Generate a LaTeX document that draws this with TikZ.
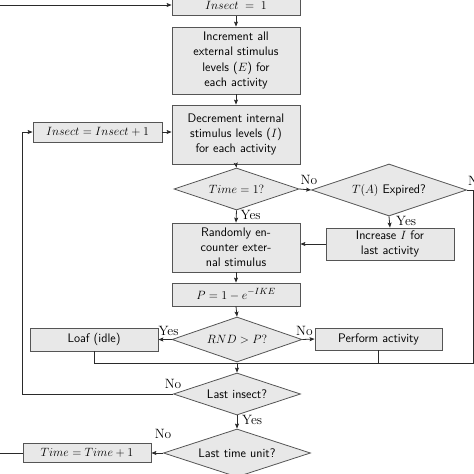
\documentclass[tikz,border=0pt]{standalone}
\usetikzlibrary{shapes.geometric,arrows.meta,calc}
\definecolor{boxfill}{HTML}{E8E8E8}
\definecolor{boxdraw}{HTML}{555555}
\definecolor{lnc}{HTML}{2A2A2A}
\tikzset{
  proc/.style={draw=boxdraw, fill=boxfill, line width=0.8pt, minimum width=128pt,
    inner sep=2pt, align=center, font=\fontsize{12.4}{15.2}\selectfont\sffamily},
  decision/.style={diamond, draw=boxdraw, fill=boxfill, line width=0.8pt, inner sep=0pt,
    aspect=3, align=center, font=\fontsize{12.4}{15.2}\selectfont\sffamily},
  flow/.style={draw=lnc, line width=0.8pt, -{Stealth[length=5pt,width=4pt,inset=1pt]}},
  plain/.style={draw=lnc, line width=0.8pt},
  lab/.style={font=\fontsize{13.5}{14}\selectfont\rmfamily, inner sep=1pt},
}
\begin{document}
\begin{tikzpicture}[x=1pt,y=-1pt]
\useasboundingbox (0,0) rectangle (474,474);
% process boxes
\node[proc, minimum height=21pt] (ins1) at (236,5) {$Insect\;=\;1$};
\node[proc, minimum height=67pt] (inc) at (236,60.5) {Increment all\\external stimulus\\levels ($E$) for\\each activity};
\node[proc, minimum height=59pt] (dec) at (236,134.5) {Decrement internal\\stimulus levels ($I$)\\for each activity};
\node[proc, minimum width=129pt, minimum height=20pt] (insinc) at (97.5,132) {$Insect = Insect+1$};
\node[decision, minimum width=125pt, minimum height=42pt] (t1) at (236.5,189) {$Time = 1?$};
\node[decision, minimum width=155pt, minimum height=52pt] (ta) at (389,190) {$T(A)$ Expired?};
\node[proc, minimum height=32pt] (incI) at (390,244) {Increase $I$ for\\last activity};
\node[proc, minimum height=49pt] (rand) at (236,247.5) {Randomly en-\\counter exter-\\nal stimulus};
\node[proc, minimum height=23pt] (p) at (236,294.5) {$P = 1 - e^{-IKE}$};
\node[decision, minimum width=130pt, minimum height=45pt] (rnd) at (237,339.5) {$RND > P?$};
\node[proc, minimum height=23pt] (loaf) at (94,339.5) {Loaf (idle)};
\node[proc, minimum width=127pt, minimum height=22pt] (perf) at (378.5,339) {Perform activity};
\node[decision, minimum width=127pt, minimum height=42pt] (last) at (237,394) {Last insect?};
\node[decision, minimum width=147pt, minimum height=48pt] (lastt) at (237,453) {Last time unit?};
\node[proc, minimum height=19pt] (tt1) at (87,453) {$Time = Time + 1$};
% helper coordinates
\coordinate (st) at (0,5);
\coordinate (mr) at (473,363);
\coordinate (ll) at (22,0);
\coordinate (en) at (0,453);
% connectors
\draw[flow] (st) -- (ins1.west);
\draw[flow] (ins1.south) -- (inc.north);
\draw[flow] (inc.south) -- (dec.north);
\draw[flow] (insinc.east) -- (insinc.east -| dec.west);
\draw[flow] (dec.south) -- (t1.north);
\draw[flow] (t1.east) -- (ta.west);
\draw[flow] (t1.south) -- (rand.north);
\draw[flow] (ta.south) -- (incI.north);
\draw[flow] (incI.west) -- (incI.west -| rand.east);
\draw[flow] (rand.south) -- (p.north);
\draw[flow] (p.south) -- (rnd.north);
\draw[flow] (rnd.west) -- (loaf.east);
\draw[flow] (rnd.east) -- (perf.west);
\draw[plain] (ta.east) -- (ta.east -| mr) -- (mr) -- (loaf.south |- mr) -- (loaf.south);
\draw[plain] (perf.south) -- (perf.south |- mr);
\draw[flow] (rnd.south |- mr) -- (last.north);
\draw[flow] (last.west) -- (last.west -| ll) -- (insinc.west -| ll) -- (insinc.west);
\draw[flow] (last.south) -- (lastt.north);
\draw[flow] (lastt.west) -- (tt1.east);
\draw[plain] (tt1.west) -- (en);
% labels
\node[lab, anchor=south west] (lno1) at ([yshift=3pt]t1.east) {No};
\node[lab, anchor=south west] (lno2) at ([yshift=3pt]ta.east) {No};
\node[lab, anchor=north west] (lyes1) at ([xshift=3pt,yshift=1pt]t1.south) {Yes};
\node[lab, anchor=north west] (lyes2) at ([xshift=6pt,yshift=1pt]ta.south) {Yes};
\node[lab, anchor=south] (lyes3) at ([xshift=-3pt,yshift=3pt]rnd.west) {Yes};
\node[lab, anchor=south] (lno3) at ([xshift=2pt,yshift=3pt]rnd.east) {No};
\node[lab, anchor=south] (lno4) at ([yshift=4pt]last.west) {No};
\node[lab, anchor=north west] (lyes4) at ([xshift=4pt,yshift=1pt]last.south) {Yes};
\node[lab, anchor=south] (lno5) at ([yshift=13pt]lastt.west) {No};
\end{tikzpicture}
\end{document}
